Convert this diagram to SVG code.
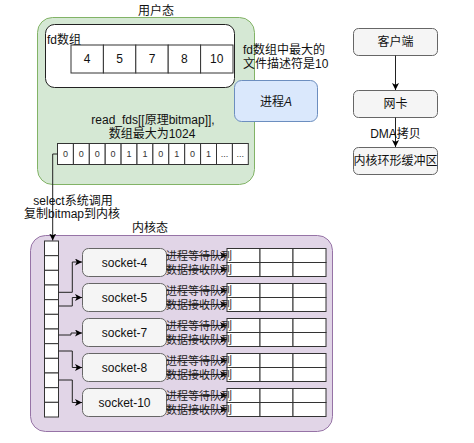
<svg xmlns="http://www.w3.org/2000/svg" width="474" height="443" viewBox="0 0 474 443">
<defs>
<marker id="arr" markerWidth="8" markerHeight="8" refX="7" refY="3.5" orient="auto" markerUnits="userSpaceOnUse">
<path d="M0,0 L7,3.5 L0,7 L1.8,3.5 z" fill="#000"/>
</marker>
<style>
text{font-family:"Liberation Sans","Noto Sans CJK SC",sans-serif;font-size:12px;fill:#111;}
.c{text-anchor:middle;}
.sm{font-size:9px;fill:#333;}
.q{font-size:11px;fill:#222;}
.cell{fill:#fff;stroke:#333;stroke-width:1;}
.gray{fill:#f5f5f5;stroke:#666;stroke-width:1;}
.ln{fill:none;stroke:#222;stroke-width:1;}
.ar{fill:none;stroke:#222;stroke-width:1;marker-end:url(#arr);}
</style>
</defs>
<rect width="474" height="443" fill="#fff"/>

<g id="user-space">
<rect x="37.5" y="17.5" width="217" height="167" rx="15" fill="#d5e8d4" stroke="#82b366"/>
<text class="c" x="156" y="15">用户态</text>
</g>

<g id="fd-array">
<rect x="45.5" y="24.5" width="189" height="63" rx="9" fill="#fff" stroke="#222"/>
<text x="47" y="44">fd数组</text>
<rect class="cell" x="71" y="45" width="32.4" height="28"/>
<rect class="cell" x="103.4" y="45" width="32.4" height="28"/>
<rect class="cell" x="135.8" y="45" width="32.4" height="28"/>
<rect class="cell" x="168.2" y="45" width="32.4" height="28"/>
<rect class="cell" x="200.6" y="45" width="32.4" height="28"/>
<text class="c" x="87.2" y="63">4</text>
<text class="c" x="119.6" y="63">5</text>
<text class="c" x="152" y="63">7</text>
<text class="c" x="184.4" y="63">8</text>
<text class="c" x="216.8" y="63">10</text>
</g>

<g id="fd-note">
<text x="243" y="54">fd数组中最大的</text>
<text x="243" y="68">文件描述符是10</text>
</g>

<g id="process-a">
<rect x="234.5" y="80.5" width="83" height="41" rx="7" fill="#dae8fc" stroke="#6c8ebf"/>
<text class="c" x="276" y="106">进程<tspan font-style="italic">A</tspan></text>
</g>

<g id="bitmap">
<text class="c" x="153" y="124">read_fds[[原理bitmap]],</text>
<text class="c" x="152" y="138">数组最大为1024</text>
<rect class="cell" x="57.5" y="143.5" width="15.9" height="21"/>
<rect class="cell" x="73.4" y="143.5" width="15.9" height="21"/>
<rect class="cell" x="89.3" y="143.5" width="15.9" height="21"/>
<rect class="cell" x="105.2" y="143.5" width="15.9" height="21"/>
<rect class="cell" x="121.1" y="143.5" width="15.9" height="21"/>
<rect class="cell" x="137" y="143.5" width="15.9" height="21"/>
<rect class="cell" x="152.9" y="143.5" width="15.9" height="21"/>
<rect class="cell" x="168.8" y="143.5" width="15.9" height="21"/>
<rect class="cell" x="184.7" y="143.5" width="15.9" height="21"/>
<rect class="cell" x="200.6" y="143.5" width="15.9" height="21"/>
<rect class="cell" x="216.5" y="143.5" width="15.9" height="21"/>
<rect class="cell" x="232.4" y="143.5" width="15.9" height="21"/>
<text class="c sm" x="65.4" y="157">0</text>
<text class="c sm" x="81.3" y="157">0</text>
<text class="c sm" x="97.2" y="157">0</text>
<text class="c sm" x="113.1" y="157">0</text>
<text class="c sm" x="129" y="157">1</text>
<text class="c sm" x="145" y="157">1</text>
<text class="c sm" x="160.8" y="157">0</text>
<text class="c sm" x="176.7" y="157">1</text>
<text class="c sm" x="192.6" y="157">0</text>
<text class="c sm" x="208.5" y="157">1</text>
<text class="c sm" x="224.4" y="157" font-size="6">...</text>
<text class="c sm" x="240.3" y="157" font-size="6">...</text>
</g>

<g id="kernel-space">
<rect x="30.5" y="235.5" width="302" height="196" rx="15" fill="#e1d5e7" stroke="#9673a6"/>
<text class="c" x="150" y="232">内核态</text>
</g>

<g id="kernel-bitmap">
<rect class="cell" x="44.5" y="241" width="14" height="14.67"/>
<rect class="cell" x="44.5" y="255.67" width="14" height="14.67"/>
<rect class="cell" x="44.5" y="270.33" width="14" height="14.67"/>
<rect class="cell" x="44.5" y="285" width="14" height="14.67"/>
<rect class="cell" x="44.5" y="299.67" width="14" height="14.67"/>
<rect class="cell" x="44.5" y="314.33" width="14" height="14.67"/>
<rect class="cell" x="44.5" y="329" width="14" height="14.67"/>
<rect class="cell" x="44.5" y="343.67" width="14" height="14.67"/>
<rect class="cell" x="44.5" y="358.33" width="14" height="14.67"/>
<rect class="cell" x="44.5" y="373" width="14" height="14.67"/>
<rect class="cell" x="44.5" y="387.67" width="14" height="14.67"/>
<rect class="cell" x="44.5" y="402.33" width="14" height="14.67"/>
</g>

<g id="socket-4">
<rect class="gray" x="82.5" y="248.5" width="84" height="28" rx="6"/>
<text class="c" x="124.5" y="267">socket-4</text>
</g>
<g id="socket-5">
<rect class="gray" x="82.5" y="283.5" width="84" height="28" rx="6"/>
<text class="c" x="124.5" y="302">socket-5</text>
</g>
<g id="socket-7">
<rect class="gray" x="82.5" y="318.5" width="84" height="28" rx="6"/>
<text class="c" x="124.5" y="337">socket-7</text>
</g>
<g id="socket-8">
<rect class="gray" x="82.5" y="353.5" width="84" height="28" rx="6"/>
<text class="c" x="124.5" y="372">socket-8</text>
</g>
<g id="socket-10">
<rect class="gray" x="82.5" y="388.5" width="84" height="28" rx="6"/>
<text class="c" x="124.5" y="407">socket-10</text>
</g>

<g id="queues">
<g id="q4">
<rect class="cell" x="227" y="248.5" width="33" height="14"/><rect class="cell" x="260" y="248.5" width="33" height="14"/><rect class="cell" x="293" y="248.5" width="33" height="14"/>
<rect class="cell" x="227" y="262.5" width="33" height="14"/><rect class="cell" x="260" y="262.5" width="33" height="14"/><rect class="cell" x="293" y="262.5" width="33" height="14"/>
</g>
<g id="q5">
<rect class="cell" x="227" y="283.5" width="33" height="14"/><rect class="cell" x="260" y="283.5" width="33" height="14"/><rect class="cell" x="293" y="283.5" width="33" height="14"/>
<rect class="cell" x="227" y="297.5" width="33" height="14"/><rect class="cell" x="260" y="297.5" width="33" height="14"/><rect class="cell" x="293" y="297.5" width="33" height="14"/>
</g>
<g id="q7">
<rect class="cell" x="227" y="318.5" width="33" height="14"/><rect class="cell" x="260" y="318.5" width="33" height="14"/><rect class="cell" x="293" y="318.5" width="33" height="14"/>
<rect class="cell" x="227" y="332.5" width="33" height="14"/><rect class="cell" x="260" y="332.5" width="33" height="14"/><rect class="cell" x="293" y="332.5" width="33" height="14"/>
</g>
<g id="q8">
<rect class="cell" x="227" y="353.5" width="33" height="14"/><rect class="cell" x="260" y="353.5" width="33" height="14"/><rect class="cell" x="293" y="353.5" width="33" height="14"/>
<rect class="cell" x="227" y="367.5" width="33" height="14"/><rect class="cell" x="260" y="367.5" width="33" height="14"/><rect class="cell" x="293" y="367.5" width="33" height="14"/>
</g>
<g id="q10">
<rect class="cell" x="227" y="388.5" width="33" height="14"/><rect class="cell" x="260" y="388.5" width="33" height="14"/><rect class="cell" x="293" y="388.5" width="33" height="14"/>
<rect class="cell" x="227" y="402.5" width="33" height="14"/><rect class="cell" x="260" y="402.5" width="33" height="14"/><rect class="cell" x="293" y="402.5" width="33" height="14"/>
</g>
</g>

<g id="client">
<rect class="gray" x="353.5" y="28.5" width="84" height="27" rx="5"/>
<text class="c" x="395.5" y="46">客户端</text>
</g>
<g id="nic">
<rect class="gray" x="353.5" y="90.5" width="84" height="27" rx="5"/>
<text class="c" x="395.5" y="108">网卡</text>
</g>
<g id="ring-buffer">
<rect class="gray" x="353.5" y="147.5" width="84" height="27" rx="5"/>
<text class="c" x="395.5" y="165">内核环形缓冲区</text>
</g>

<g id="connectors">
<path class="ar" d="M395.5,55.5 V90"/>
<path class="ar" d="M395.5,117.5 V147"/>
<text class="c" x="395.5" y="138">DMA拷贝</text>
<path class="ar" d="M57.5,154 H52.7 V240.5"/>
<text class="c" x="73" y="205">select系统调用</text>
<text class="c" x="72" y="218">复制bitmap到内核</text>
<path class="ar" d="M58.5,292.3 H72.3 V262 H82"/>
<path class="ar" d="M58.5,306 H72.3 V297.5 H82"/>
<path class="ar" d="M58.5,335 H71 V333 H82"/>
<path class="ar" d="M58.5,351 H72.3 V367.5 H82"/>
<path class="ar" d="M58.5,380 H72.3 V402.5 H82"/>
<path class="ar" d="M166.5,255.5 H227"/><path class="ar" d="M166.5,269.5 H227"/>
<path class="ar" d="M166.5,290.5 H227"/><path class="ar" d="M166.5,304.5 H227"/>
<path class="ar" d="M166.5,325.5 H227"/><path class="ar" d="M166.5,339.5 H227"/>
<path class="ar" d="M166.5,360.5 H227"/><path class="ar" d="M166.5,374.5 H227"/>
<path class="ar" d="M166.5,395.5 H227"/><path class="ar" d="M166.5,409.5 H227"/>
</g>

<g id="queue-labels">
<text class="q" x="166" y="259.5">进程等待队列</text><text class="q" x="166" y="273.5">数据接收队列</text>
<text class="q" x="166" y="294.5">进程等待队列</text><text class="q" x="166" y="308.5">数据接收队列</text>
<text class="q" x="166" y="329.5">进程等待队列</text><text class="q" x="166" y="343.5">数据接收队列</text>
<text class="q" x="166" y="364.5">进程等待队列</text><text class="q" x="166" y="378.5">数据接收队列</text>
<text class="q" x="166" y="399.5">进程等待队列</text><text class="q" x="166" y="413.5">数据接收队列</text>
</g>
</svg>
